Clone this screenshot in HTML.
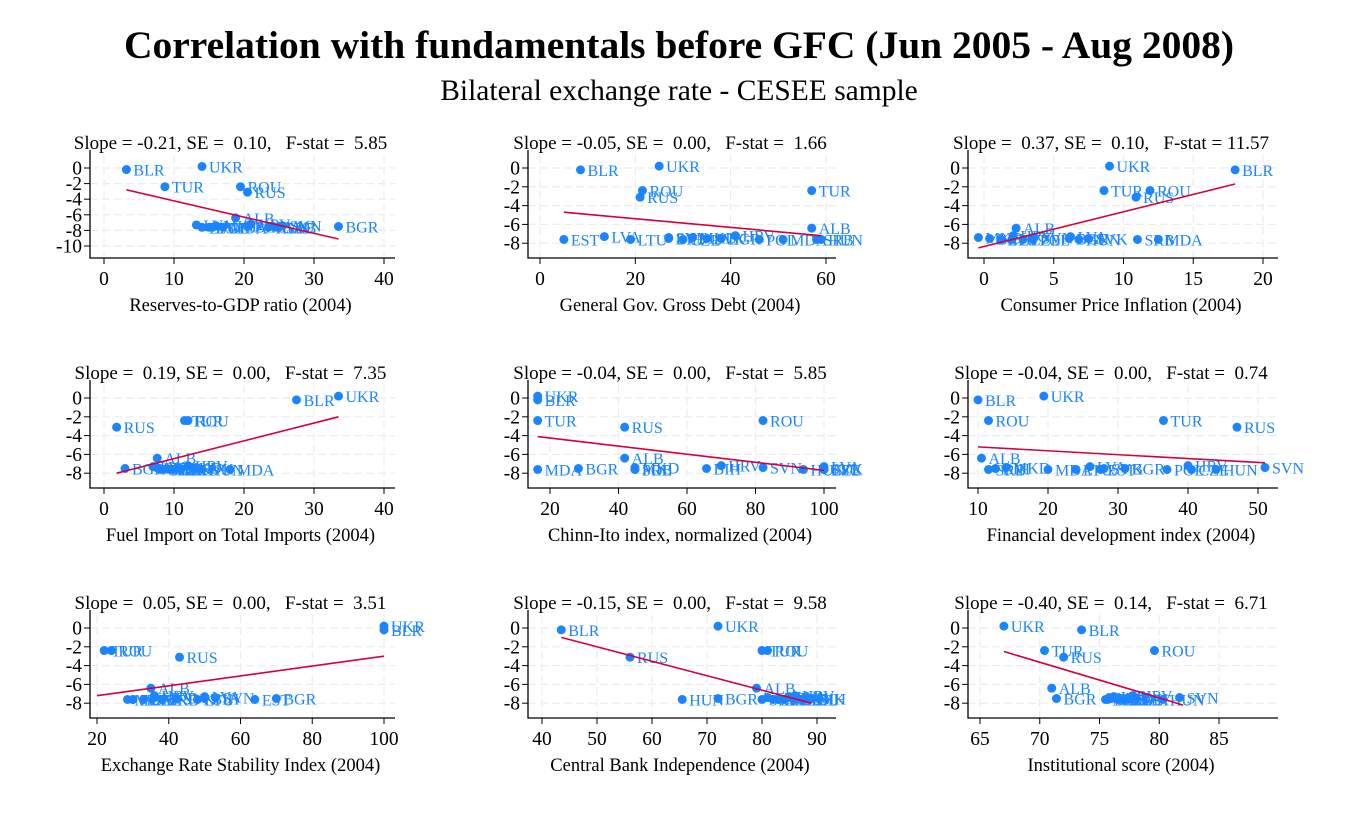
<!DOCTYPE html>
<html><head><meta charset="utf-8">
<style>
html,body{margin:0;padding:0;background:#fff;}
svg{display:block;font-family:"Liberation Serif",serif;}
.pre{white-space:pre;}
</style></head>
<body>
<svg id="chart" width="1358" height="815" viewBox="0 0 1358 815">
<text x="679" y="58" text-anchor="middle" font-size="39.5" font-weight="bold">Correlation with fundamentals before GFC (Jun 2005 - Aug 2008)</text>
<text x="679" y="100" text-anchor="middle" font-size="29.5">Bilateral exchange rate - CESEE sample</text>
</svg>
<script>
const countries = ["ALB","BGR","BIH","BLR","CZE","EST","HRV","HUN","LTU","LVA","MDA","MKD","POL","ROU","RUS","SRB","SVK","SVN","TUR","UKR"];
const yValues   = [-6.4,-7.5,-7.5,-0.2,-7.6,-7.6,-7.2,-7.6,-7.6,-7.3,-7.6,-7.4,-7.6,-2.4,-3.1,-7.6,-7.5,-7.4,-2.4,0.2];
const titles = [
 "Slope = -0.21, SE =  0.10,   F-stat =  5.85",
 "Slope = -0.05, SE =  0.00,   F-stat =  1.66",
 "Slope =  0.37, SE =  0.10,   F-stat = 11.57",
 "Slope =  0.19, SE =  0.00,   F-stat =  7.35",
 "Slope = -0.04, SE =  0.00,   F-stat =  5.85",
 "Slope = -0.04, SE =  0.00,   F-stat =  0.74",
 "Slope =  0.05, SE =  0.00,   F-stat =  3.51",
 "Slope = -0.15, SE =  0.00,   F-stat =  9.58",
 "Slope = -0.40, SE =  0.14,   F-stat =  6.71"];
const xLabels = ["Reserves-to-GDP ratio (2004)","General Gov. Gross Debt (2004)","Consumer Price Inflation (2004)",
 "Fuel Import on Total Imports (2004)","Chinn-Ito index, normalized (2004)","Financial development index (2004)",
 "Exchange Rate Stability Index (2004)","Central Bank Independence (2004)","Institutional score (2004)"];
const xTicks = [[0,10,20,30,40],[0,20,40,60],[0,5,10,15,20],[0,10,20,30,40],[20,40,60,80,100],[10,20,30,40,50],[20,40,60,80,100],[40,50,60,70,80,90],[65,70,75,80,85]];
const yTicks = [[0,-2,-4,-6,-8,-10],[0,-2,-4,-6,-8],[0,-2,-4,-6,-8],[0,-2,-4,-6,-8],[0,-2,-4,-6,-8],[0,-2,-4,-6,-8],[0,-2,-4,-6,-8],[0,-2,-4,-6,-8],[0,-2,-4,-6,-8]];
const xReserves = [18.8,33.5,20.5,3.2,24.5,15,21,23.5,14,13.2,17,16,15.5,19.5,20.5,25,23.7,25.5,8.7,14];
const xDebt     = [57,38,27,8.5,30,5,41,59,19,13.5,51,32,46,21.5,21,58,35,27,57,25];
const xCPI      = [2.3,6.1,0.4,18,2.8,2,2.1,6.8,1.2,6.2,12.5,-0.4,3.5,11.9,10.9,11,7.5,3.6,8.6,9];
const xFuel     = [7.6,3,9,27.5,8,10,12,14,9.5,7,18,10.5,8.5,12,1.8,11,13,7.5,11.5,33.5];
const xChinn    = [41.8,28.3,65.7,16.4,100,100,70,94,100,100,16.4,44.8,44.8,82.2,41.8,44.8,100,82.2,16.4,16.4];
const xFinDev   = [10.5,31,12.5,10,40.5,27.5,40,44,24,26,20,14,37,11.5,47,11.5,28,51,36.5,19.4];
const xERS      = [35,70,50,100,33,64,36,30,48,50,28.5,36,30,24,43,38,42,53,22,100];
const xCBI      = [79,72,89,43.5,84,86,86,65.5,82,85,83,81,87,81,56,80,88,85,80,72];
const xInst     = [71,71.4,76,73.5,77,78,77.8,80.3,76.5,76.2,75.5,75.8,77.2,79.6,72,75.7,77.5,81.7,70.4,67];
const xSeries = [xReserves,xDebt,xCPI,xFuel,xChinn,xFinDev,xERS,xCBI,xInst];
const fitX = [[3.2,33.5],[5,59],[-0.4,18],[1.8,33.5],[16.4,100],[10,51],[20,100],[43.5,89],[67,82]];
const fitY = [[-2.8,-9.1],[-4.7,-7.2],[-8.5,-1.7],[-8,-2],[-4.1,-7.7],[-5.2,-6.9],[-7.2,-3],[-1,-8],[-2.5,-8.2]];

const colL=[90,528,968], colR=[395,836,1278];
const xMap=[[0,104,40,384],[0,540,60,826],[0,984,20,1263],[0,104,40,384],[20,550,100,824],[10,978,50,1258],[20,97,100,384],[40,542,90,817],[65,980,85,1219]];
const NS="http://www.w3.org/2000/svg";
const svg=document.getElementById('chart');
function mk(tag,attrs,parent){const e=document.createElementNS(NS,tag);for(const k in attrs)e.setAttribute(k,attrs[k]);(parent||svg).appendChild(e);return e;}
for(let p=0;p<9;p++){
  const col=p%3,row=Math.floor(p/3),off=row*230;
  const g=mk('g',{});
  
  
  const m=xMap[p];
  const sx=v=>m[1]+(v-m[0])*(m[3]-m[1])/(m[2]-m[0]);
  const k=p===0?7.8:9.4;
  const sy=v=>168+off-v*k;
  const L=colL[col],R=colR[col],B=258+off,T=155+off;
  xTicks[p].forEach(t=>{const l=mk('line',{x1:sx(t),x2:sx(t),y1:T,y2:B,stroke:'#ececec','stroke-width':1.2,'stroke-dasharray':'8,4'},g);
    
    });
  yTicks[p].forEach(t=>{const l=mk('line',{x1:L,x2:R,y1:sy(t),y2:sy(t),stroke:'#ececec','stroke-width':1.2,'stroke-dasharray':'8,4'},g);
    
    });
  const ax=mk('path',{d:`M${L},${T-5}V${B}H${R}`,fill:'none',stroke:'#000','stroke-width':1.3},g);
  
  
  xTicks[p].forEach(t=>{mk('line',{x1:sx(t),x2:sx(t),y1:B,y2:B+6,stroke:'#000'},g);
    const tx=mk('text',{x:sx(t),y:B+27,'text-anchor':'middle','font-size':19.5},g);tx.textContent=t;
    
    });
  yTicks[p].forEach(t=>{mk('line',{x1:L-6,x2:L,y1:sy(t),y2:sy(t),stroke:'#000'},g);
    const tx=mk('text',{x:L-8,y:sy(t)+6.5,'text-anchor':'end','font-size':19.5},g);tx.textContent=t;
    
    });
  const ti=mk('text',{x:(L+R)/2-12,y:149+off,'text-anchor':'middle','font-size':19,'class':'pre'},g);ti.textContent=titles[p];
  
  
  const xl=mk('text',{x:(L+R)/2-2,y:311+off,'text-anchor':'middle','font-size':18.5},g);xl.textContent=xLabels[p];
  
  
  countries.forEach((c,i)=>{
    const cx=sx(xSeries[p][i]),cy=sy(yValues[i]);
    const d=mk('circle',{cx:cx,cy:cy,r:4.5,fill:'#1a85ff'},g);
    
    
    const lb=mk('text',{x:cx+7,y:cy+6,'font-size':16,fill:'#1a85ff'},g);lb.textContent=c;
    
    
  });
  const fl=mk('line',{x1:sx(fitX[p][0]),y1:sy(fitY[p][0]),x2:sx(fitX[p][1]),y2:sy(fitY[p][1]),stroke:'#d6003c','stroke-width':1.6},g);
  
  
}
</script>
</body></html>
